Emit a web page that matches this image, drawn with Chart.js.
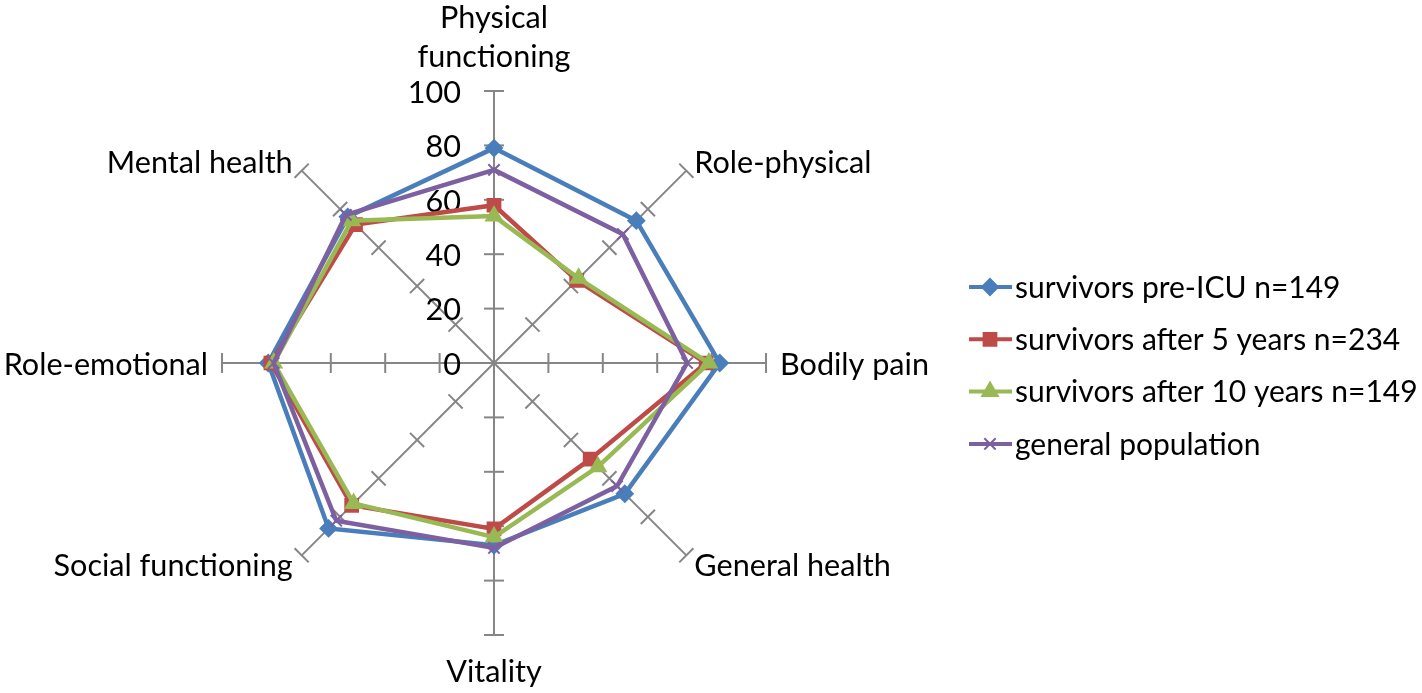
<!DOCTYPE html>
<html>
<head>
<meta charset="utf-8">
<script src="https://cdn.jsdelivr.net/npm/chart.js@4.4.1/dist/chart.umd.min.js"></script>
<style>
  html, body { margin: 0; padding: 0; background: #fff; }
  #wrap { width: 1422px; height: 693px; }
</style>
</head>
<body>
<div id="wrap"><canvas id="radar" width="1422" height="693"></canvas></div>
<script>
// SF-36 domains, one spoke each
const categories = [['Physical', 'functioning'], 'Role-physical', 'Bodily pain', 'General health',
  'Vitality', 'Social functioning', 'Role-emotional', 'Mental health'];

const preIcu     = [79, 74, 83, 68, 67, 86, 83, 76];
const after5     = [58, 43, 78, 50, 61, 74, 82, 72];
const after10    = [54, 44, 79, 54, 64, 73, 81, 74];
const generalPop = [71, 67, 71, 64, 68, 82, 81, 77];

const seriesNames = ['survivors pre-ICU n=149', 'survivors after 5 years n=234',
  'survivors after 10 years n=149', 'general population'];
const tickValues = [0, 20, 40, 60, 80, 100];

const FONT = '30.6px Lato';
const LEGEND_FONT = '30px Lato';
const AXIS = '#868686';

function series(label, data, color, style, radius, order) {
  return {
    label: label,
    data: data,
    borderColor: color,
    backgroundColor: color,
    borderWidth: 4.5,
    fill: false,
    pointStyle: style,
    pointRadius: radius,
    pointBackgroundColor: color,
    pointBorderColor: color,
    pointBorderWidth: 2,
    order: order
  };
}

// spoke ticks, value labels, category labels and the legend
const excelRadar = {
  id: 'excelRadar',
  beforeDatasetsDraw(chart) {
    const s = chart.scales.r;
    const ctx = chart.ctx;
    ctx.save();
    ctx.strokeStyle = AXIS;
    ctx.lineWidth = 2;
    for (let i = 0; i < categories.length; i++) {
      tickValues.forEach(v => {
        if (v === 0) return;
        const p = s.getPointPositionForValue(i, v);
        const nx = -Math.sin(p.angle), ny = Math.cos(p.angle);
        ctx.beginPath();
        ctx.moveTo(p.x - nx * 10, p.y - ny * 10);
        ctx.lineTo(p.x + nx * 10, p.y + ny * 10);
        ctx.stroke();
      });
    }

    ctx.fillStyle = '#000';
    ctx.font = FONT;
    ctx.textBaseline = 'middle';
    ctx.textAlign = 'right';
    tickValues.forEach(v => {
      const p = s.getPointPositionForValue(0, v);
      ctx.fillText(String(v), p.x - 33, p.y + 2);
    });

    categories.forEach((lab, i) => {
      const p = s.getPointPositionForValue(i, 100);
      const dx = Math.round(p.x - s.xCenter), dy = Math.round(p.y - s.yCenter);
      const lines = Array.isArray(lab) ? lab : [lab];
      let x = p.x, y = p.y;
      if (dx === 0) {
        ctx.textAlign = 'center';
        y = dy < 0 ? p.y - 34 - (lines.length - 1) * 39 : p.y + 37;
      } else if (dy === 0) {
        ctx.textAlign = dx > 0 ? 'left' : 'right';
        x = p.x + (dx > 0 ? 14 : -14);
        y = p.y + 2;
      } else {
        ctx.textAlign = dx > 0 ? 'left' : 'right';
        x = p.x + (dx > 0 ? 8 : -9);
        y = p.y + (dy < 0 ? -8 : 11);
      }
      lines.forEach((t, k) => ctx.fillText(t, x, y + k * 39));
    });
    ctx.restore();
  },
  afterDraw(chart) {
    const ctx = chart.ctx;
    ctx.save();
    chart.data.datasets.forEach((ds, i) => {
      const y = 287 + i * 52.3;
      ctx.strokeStyle = ds.borderColor;
      ctx.lineWidth = 4;
      ctx.beginPath();
      ctx.moveTo(969, y);
      ctx.lineTo(1012, y);
      ctx.stroke();
      ctx.fillStyle = ds.pointBackgroundColor;
      ctx.lineWidth = ds.pointBorderWidth;
      Chart.helpers.drawPoint(ctx, {
        pointStyle: ds.pointStyle, radius: ds.pointRadius,
        borderWidth: ds.pointBorderWidth, rotation: 0
      }, 990, y);
      ctx.fillStyle = '#000';
      ctx.font = LEGEND_FONT;
      ctx.textAlign = 'left';
      ctx.textBaseline = 'middle';
      ctx.fillText(ds.label, 1015, y + 1);
    });
    ctx.restore();
  }
};

new Chart(document.getElementById('radar'), {
  type: 'radar',
  data: {
    labels: categories,
    datasets: [
      series(seriesNames[0], preIcu, '#4A7EBB', 'rectRot', 8, 3),
      series(seriesNames[1], after5, '#BE4B48', 'rect', 9, 2),
      series(seriesNames[2], after10, '#98B954', 'triangle', 9, 1),
      series(seriesNames[3], generalPop, '#7D60A0', 'crossRot', 8, 0)
    ]
  },
  options: {
    responsive: false,
    animation: false,
    layout: { padding: { left: 222, top: 91, right: 656, bottom: 58 } },
    plugins: { legend: { display: false }, tooltip: { enabled: false } },
    elements: { line: { tension: 0 } },
    scales: {
      r: {
        min: 0,
        max: 100,
        ticks: { display: false, stepSize: 20 },
        grid: { display: false },
        angleLines: { display: true, color: AXIS, lineWidth: 2 },
        pointLabels: { display: false }
      }
    }
  },
  plugins: [excelRadar]
});
</script>
</body>
</html>
